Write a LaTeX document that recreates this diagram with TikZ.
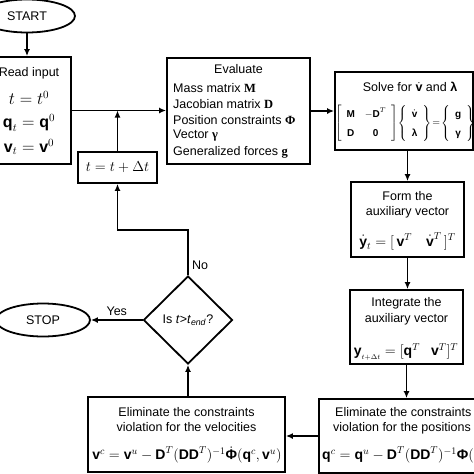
\documentclass[tikz,border=0pt]{standalone}
\usepackage[no-math]{fontspec}
\setmainfont{Liberation Sans}
\newfontfamily\serifb{Liberation Serif}
\usetikzlibrary{shapes.geometric,arrows.meta}
\newcommand\B[1]{\mbox{\bfseries #1}}
\newcommand\SB[1]{{\serifb\bfseries #1}}
\tikzset{
  box/.style={draw,line width=1.8pt,rectangle,inner sep=0pt},
  oval/.style={draw,line width=1.8pt,ellipse,inner sep=0pt,font=\fontsize{12.5}{15}\selectfont},
  dia/.style={draw,line width=1.8pt,diamond,inner sep=0pt,font=\fontsize{12.5}{15}\selectfont},
  txt/.style={inner sep=0pt,font=\fontsize{12.5}{15}\selectfont},
  eq/.style={inner sep=0pt,font=\fontsize{14}{17}\selectfont},
  bigeq/.style={inner sep=0pt,font=\fontsize{16}{19}\selectfont},
  arr/.style={line width=1.8pt,-{Latex[length=7pt,width=6pt]}},
  ln/.style={line width=1.8pt}
}
\begin{document}
\begin{tikzpicture}[x=1pt,y=-1pt]
\useasboundingbox (0,0) rectangle (474,474);
\clip (0,0) rectangle (474,474);
\fill[white] (0,0) rectangle (474,474);
% shapes
\node[oval,minimum width=96pt,minimum height=33pt] (start) at (27,16) {START};
\node[box,minimum width=84pt,minimum height=107pt] (read) at (29,110.5) {};
\node[box,minimum width=143pt,minimum height=106pt] (eval) at (238.5,111) {};
\node[box,minimum width=138pt,minimum height=78pt] (solve) at (404,111) {};
\node[box,minimum width=113pt,minimum height=75pt] (form) at (407.5,219.5) {};
\node[box,minimum width=113pt,minimum height=74pt] (integ) at (406.5,327) {};
\node[box,minimum width=181pt,minimum height=74pt] (elimpos) at (409.5,436) {};
\node[box,minimum width=197pt,minimum height=75pt] (elimvel) at (186.5,434.5) {};
\node[dia,minimum width=89pt,minimum height=88pt] (test) at (188,320) {Is \textit{t}>\textit{t}\textsubscript{\textit{end}}?};
\node[box,minimum width=79pt,minimum height=31pt,font=\fontsize{14}{16}\selectfont] (tbox) at (117.5,167.5) {$t = t + \Delta t$};
\node[oval,minimum width=94pt,minimum height=33pt] (stop) at (43,320) {STOP};
% texts
\node[txt] (r1) at (29,73) {Read input};
\node[bigeq] (r2) at (29,98) {$t = t^0$};
\node[bigeq] (r3) at (29,123) {$\B{q}_t = \B{q}^0$};
\node[bigeq] (r4) at (29,147) {$\B{v}_t = \B{v}^0$};
\node[txt] (e0) at (238.5,69) {Evaluate};
\node[txt,anchor=west] (e1) at (173,88) {Mass matrix \SB{M}};
\node[txt,anchor=west] (e2) at (173,104) {Jacobian matrix \SB{D}};
\node[txt,anchor=west] (e3) at (173,120) {Position constraints \SB{Φ}};
\node[txt,anchor=west] (e4) at (173,136) {Vector \SB{γ}};
\node[txt,anchor=west] (e5) at (173,152) {Generalized forces \SB{g}};
\node[txt] (s0) at (410,87) {Solve for $\dot{\B{v}}$ and \B{λ}};
\node[inner sep=0pt,font=\fontsize{10}{12}\selectfont] (s1) at (405,123) {\renewcommand\arraystretch{1.6}\setlength\arraycolsep{5pt}%
$\left[\begin{array}{cc}\B{M} & -\B{D}^T\\ \B{D} & \B{0}\end{array}\right]
\!\left\{\begin{array}{c}\dot{\B{v}}\\ \B{λ}\end{array}\right\}\!=\!
\left\{\begin{array}{c}\B{g}\\ \B{γ}\end{array}\right\}$};
\node[txt] (f1) at (407.5,196) {Form the};
\node[txt] (f2) at (407.5,212) {auxiliary vector};
\node[eq] (f3) at (407.5,241) {$\dot{\B{y}}_t = [\,\B{v}^T\quad \dot{\B{v}}^T\,]^T$};
\node[txt] (i1) at (406.5,303) {Integrate the};
\node[txt] (i2) at (406.5,319) {auxiliary vector};
\node[eq] (i3) at (406,352) {$\B{y}_{\scriptscriptstyle t+\Delta t} = [\B{q}^T\enskip\; \B{v}^T]^T$};
\node[txt,anchor=west] (p1) at (335,412) {Eliminate the constraints};
\node[txt,anchor=west] (p2) at (333,428) {violation for the positions};
\node[eq,anchor=west] (p3) at (322,455) {$\B{q}^c = \B{q}^u - \B{D}^T(\B{D}\B{D}^T)^{-1}\B{Φ}(\B{q}^c,\B{v}^u)$};
\node[txt] (v1) at (186.5,412) {Eliminate the constraints};
\node[txt] (v2) at (186.5,427) {violation for the velocities};
\node[eq] (v3) at (187,455) {$\B{v}^c = \B{v}^u - \B{D}^T(\B{D}\B{D}^T)^{-1}\dot{\B{Φ}}(\B{q}^c,\B{v}^u)$};
% connectors
\draw[arr] (start.south) -- (start.south |- read.north);
\draw[arr] (read.east) -- (eval.west |- read.east);
\draw[arr] (tbox.north) -- (tbox.north |- read.east);
\draw[arr] (eval.east) -- (solve.west |- eval.east);
\draw[arr] (form.north |- solve.south) -- (form.north);
\draw[arr] (form.south) -- (form.south |- integ.north);
\draw[arr] (integ.south) -- (integ.south |- elimpos.north);
\draw[arr] (elimpos.west) -- (elimvel.east |- elimpos.west);
\draw[arr] (test.south |- elimvel.north) -- (test.south);
\draw[arr] (test.west) -- node[txt,above=3pt] (yes) {Yes} (stop.east);
\coordinate (bend) at (188,230);
\draw[arr] (test.north) -- (bend) -| (tbox.south);
\node[txt,anchor=west] (no) at (192,265) {No};
\end{tikzpicture}
\end{document}
